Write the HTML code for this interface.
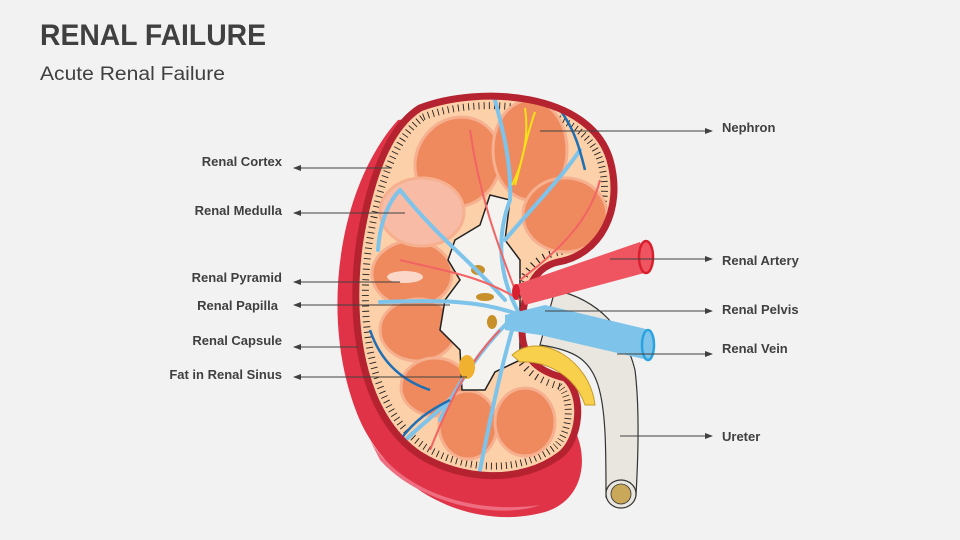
<!DOCTYPE html>
<html><head><meta charset="utf-8"><style>
html,body{margin:0;padding:0;background:#f2f2f2;}
svg{display:block;font-family:"Liberation Sans",sans-serif;}
.l{font-size:13px;font-weight:bold;fill:#404040;}
</style></head><body>
<svg width="960" height="540" viewBox="0 0 960 540" xmlns="http://www.w3.org/2000/svg">
<defs>
<marker id="a" markerWidth="8" markerHeight="6" refX="7" refY="3" orient="auto"><path d="M0,0 L8,3 L0,6 Z" fill="#404040"/></marker>
<clipPath id="kc"><path id="kp" d="M420,108 C480,85 590,92 610,160 C624,210 600,255 558,262 C530,268 522,300 522,330 C522,360 540,372 565,378 C585,395 580,440 560,455 C520,485 460,480 420,455 C360,415 348,320 360,240 C370,180 388,128 420,108 Z"/></clipPath>
</defs>
<text x="40" y="45" font-size="30" font-weight="bold" fill="#404040" textLength="226" lengthAdjust="spacingAndGlyphs">RENAL FAILURE</text>
<text x="40" y="80" font-size="19" fill="#404040" textLength="185" lengthAdjust="spacingAndGlyphs">Acute Renal Failure</text>

<!-- ureter -->
<path d="M555,290 C600,300 625,330 635,370 C640,410 638,460 636,495 L606,497 C606,450 606,410 598,385 C590,360 575,350 540,345 Z" fill="#e8e6de" stroke="#333" stroke-width="1.2"/>
<ellipse cx="621" cy="494" rx="15" ry="14" fill="#e8e6de" stroke="#333" stroke-width="1.2"/>
<ellipse cx="621" cy="494" rx="10" ry="10" fill="#c9a85a" stroke="#333" stroke-width="0.8"/>

<!-- outer red crescent -->
<path d="M398,120 C335,190 318,330 362,425 C400,500 480,530 545,512 C585,500 590,455 572,425 C555,460 500,480 450,462 C378,432 352,330 364,250 C372,190 392,150 415,118 Z" fill="#e03347"/>
<path d="M370,440 C400,490 470,515 540,505 C500,520 420,505 380,460 Z" fill="#ee6d80"/>

<!-- kidney body -->
<path d="M420,108 C480,85 590,92 610,160 C624,210 600,255 558,262 C530,268 522,300 522,330 C522,360 540,372 565,378 C585,395 580,440 560,455 C520,485 460,480 420,455 C360,415 348,320 360,240 C370,180 388,128 420,108 Z" fill="#fcd0a8"/>
<g clip-path="url(#kc)">
 <use href="#kp" fill="none" stroke="#222" stroke-width="26" stroke-dasharray="0.9 4.5"/>
 <use href="#kp" fill="none" stroke="#fcd0a8" stroke-width="12"/>
 <!-- pyramids -->
 <g fill="#ef8a5e" stroke="#f6b08f" stroke-width="3">
  <ellipse cx="458" cy="162" rx="42" ry="46" transform="rotate(30 458 162)"/>
  <ellipse cx="530" cy="150" rx="37" ry="50"/>
  <ellipse cx="565" cy="215" rx="42" ry="37"/>
  <ellipse cx="412" cy="274" rx="40" ry="33"/>
  <ellipse cx="418" cy="330" rx="38" ry="31"/>
  <ellipse cx="435" cy="387" rx="34" ry="29"/>
  <ellipse cx="468" cy="425" rx="29" ry="34"/>
  <ellipse cx="525" cy="422" rx="30" ry="34"/>
 </g>
 <ellipse cx="422" cy="212" rx="42" ry="34" fill="#f8bba5" stroke="#f6b08f" stroke-width="3"/>
 <ellipse cx="405" cy="277" rx="18" ry="6" fill="#fad7c8"/>
 <!-- sinus -->
 <path d="M455,240 L480,225 L490,195 L510,200 L505,240 L520,260 L520,360 L495,372 L485,390 L462,390 L460,350 L440,330 L445,300 L460,280 L448,260 Z" fill="#f5f3f0" stroke="#222" stroke-width="1.5"/>
 <ellipse cx="478" cy="270" rx="7" ry="5" fill="#c7902b"/>
 <ellipse cx="485" cy="297" rx="9" ry="4" fill="#c7902b"/>
 <ellipse cx="492" cy="322" rx="5" ry="7" fill="#c7902b"/>
 <!-- blue vessels -->
 <g stroke="#7ec3ea" stroke-width="4" fill="none" stroke-linecap="round">
  <path d="M520,315 C500,280 495,240 510,200 C512,160 500,120 495,100"/>
  <path d="M520,315 C480,300 440,300 380,302"/>
  <path d="M505,300 C470,260 440,240 400,190"/>
  <path d="M510,320 C480,350 460,380 440,420"/>
  <path d="M515,320 C500,370 490,420 480,470"/>
  <path d="M505,240 C530,210 560,180 580,150"/>
  <path d="M450,400 C430,420 400,440 380,470"/>
  <path d="M400,190 C390,200 380,220 378,250"/>
 </g>
 <g stroke="#1f6fb5" stroke-width="2.5" fill="none">
  <path d="M370,330 C380,360 400,380 430,390"/><path d="M400,440 C415,420 430,410 450,400"/>
  <path d="M560,110 C575,130 580,150 585,170"/>
 </g>
 <g stroke="#f26363" stroke-width="2" fill="none">
  <path d="M520,300 C480,275 440,270 400,260"/><path d="M515,290 C500,250 480,200 470,130"/>
  <path d="M500,330 C470,360 450,400 430,450"/><path d="M520,280 C560,250 590,220 600,180"/>
 </g>
</g>
<use href="#kp" fill="none" stroke="#b52230" stroke-width="7"/>
<path d="M535,112 C525,140 520,170 515,185 M525,108 C530,140 520,170 512,185" stroke="#f5e11a" stroke-width="2" fill="none"/>

<!-- artery -->
<path d="M515,285 L640,242 L648,272 L525,305 Z" fill="#ef5560"/>
<ellipse cx="646" cy="257" rx="7" ry="16" fill="#ef5560" stroke="#d8202f" stroke-width="2.5"/>
<ellipse cx="516" cy="292" rx="4" ry="8" fill="#d8202f"/>
<!-- vein -->
<path d="M505,315 L545,305 L650,330 L648,360 L540,335 L505,330 Z" fill="#7ec3ea"/>
<ellipse cx="648" cy="345" rx="6" ry="15" fill="#7ec3ea" stroke="#2aa3df" stroke-width="2.5"/>
<!-- fat -->
<path d="M512,355 C540,330 590,360 595,405 L585,405 C575,375 545,360 520,362 Z" fill="#f8d04c" stroke="#c79a2a" stroke-width="1"/>
<ellipse cx="467" cy="367" rx="8" ry="12" fill="#f0b030"/>

<!-- left labels -->
<g class="l" text-anchor="end">
<text x="282" y="166">Renal Cortex</text>
<text x="282" y="215">Renal Medulla</text>
<text x="282" y="282">Renal Pyramid</text>
<text x="278" y="310">Renal Papilla</text>
<text x="282" y="345">Renal Capsule</text>
<text x="282" y="379">Fat in Renal Sinus</text>
</g>
<g stroke="#404040" stroke-width="1" marker-end="url(#a)">
<line x1="392" y1="168" x2="294" y2="168"/>
<line x1="405" y1="213" x2="294" y2="213"/>
<line x1="400" y1="282" x2="294" y2="282"/>
<line x1="450" y1="305" x2="294" y2="305"/>
<line x1="358" y1="347" x2="294" y2="347"/>
<line x1="467" y1="377" x2="294" y2="377"/>
<line x1="540" y1="131" x2="712" y2="131"/>
<line x1="610" y1="259" x2="712" y2="259"/>
<line x1="545" y1="311" x2="712" y2="311"/>
<line x1="617" y1="354" x2="712" y2="354"/>
<line x1="620" y1="436" x2="712" y2="436"/>
</g>
<g class="l">
<text x="722" y="132">Nephron</text>
<text x="722" y="265">Renal Artery</text>
<text x="722" y="314">Renal Pelvis</text>
<text x="722" y="353">Renal Vein</text>
<text x="722" y="441">Ureter</text>
</g>
</svg>
</body></html>
